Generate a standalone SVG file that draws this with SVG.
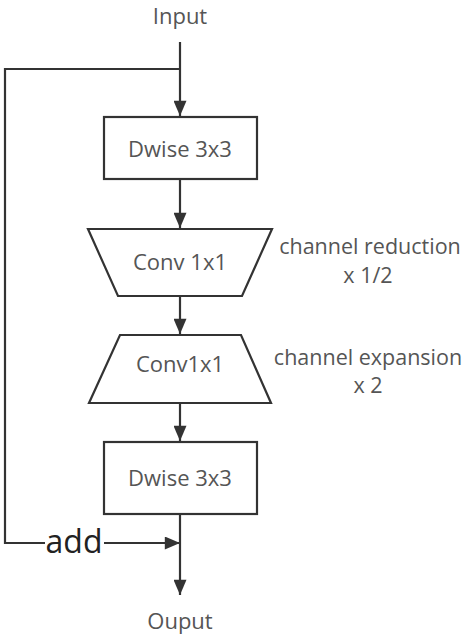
<svg xmlns="http://www.w3.org/2000/svg" width="474" height="641" viewBox="0 0 474 641">
<defs>
<marker id="arr" viewBox="0 0 14 12" refX="14" refY="6" markerWidth="16" markerHeight="13" markerUnits="userSpaceOnUse" orient="auto">
<path d="M0,0 L14,6 L0,12 z" fill="#333"/>
</marker>
<style>
.shape{fill:#fff;stroke:#333;stroke-width:2.2}
.line{fill:none;stroke:#333;stroke-width:2.2}
.t{font-family:"Open Sans","Noto Sans",sans-serif;font-size:22px;fill:#555;text-anchor:middle}
.lbl{font-family:"Open Sans","Noto Sans",sans-serif;font-size:21.5px;fill:#555;text-anchor:middle}
.add{font-family:"Open Sans","Noto Sans",sans-serif;font-size:32px;fill:#222;text-anchor:middle}
</style>
</defs>
<rect width="474" height="641" fill="#fff"/>
<g id="connectors">
<path class="line" d="M180,42 V116" marker-end="url(#arr)"/>
<path class="line" d="M180,69 H5 V543 H45"/>
<path class="line" d="M104,543 H180" marker-end="url(#arr)"/>
<path class="line" d="M180,179 V228" marker-end="url(#arr)"/>
<path class="line" d="M180,296 V334" marker-end="url(#arr)"/>
<path class="line" d="M180,403 V441" marker-end="url(#arr)"/>
<path class="line" d="M180,514 V595" marker-end="url(#arr)"/>
</g>
<g id="input"><text class="t" x="180" y="24">Input</text></g>
<g id="dwise1"><rect class="shape" x="104" y="117" width="153" height="62"/><text class="t" x="180" y="157">Dwise 3x3</text></g>
<g id="conv1"><polygon class="shape" points="88,229 272,229 242,296 118,296"/><text class="t" x="180" y="270">Conv 1x1</text></g>
<g id="label1"><text class="lbl" x="370" y="254">channel reduction</text><text class="lbl" x="368" y="283">x 1/2</text></g>
<g id="conv2"><polygon class="shape" points="120,335 241,335 271,403 89,403"/><text class="t" x="180" y="372">Conv1x1</text></g>
<g id="label2"><text class="lbl" x="368" y="365">channel expansion</text><text class="lbl" x="368" y="393">x 2</text></g>
<g id="dwise2"><rect class="shape" x="104" y="442" width="153" height="72"/><text class="t" x="180" y="486">Dwise 3x3</text></g>
<g id="add"><text class="add" x="74" y="553">add</text></g>
<g id="output"><text class="t" x="180" y="629">Ouput</text></g>
</svg>
